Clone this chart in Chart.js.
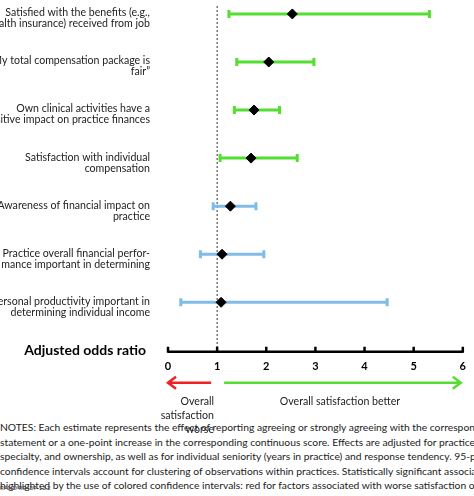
<!DOCTYPE html>
<html>
<head>
<meta charset="utf-8">
<script src="https://cdn.jsdelivr.net/npm/chart.js@4.4.0/dist/chart.umd.min.js"></script>
<style>
  body { margin: 0; background: #fff; font-family: Lato, sans-serif; }
  #wrap { position: absolute; top: 0; left: 0; width: 474px; height: 440px; }
  #notes { position: absolute; top: 420px; left: 0; width: 474px; font-size: 10.3px; line-height: 14.6px; color: #222; white-space: nowrap; }
  #src { position: absolute; top: 484px; left: 0; font-size: 6px; color: #333; }
</style>
</head>
<body>
<div id="notes">NOTES: Each estimate represents the effect of reporting agreeing or strongly agreeing with the corresponding<br>statement or a one-point increase in the corresponding continuous score. Effects are adjusted for practice size,<br>specialty, and ownership, as well as for individual seniority (years in practice) and response tendency. 95-percent<br>confidence intervals account for clustering of observations within practices. Statistically significant associations are<br>highlighted by the use of colored confidence intervals: red for factors associated with worse satisfaction or green<br>for factors associated with better satisfaction.</div>
<div id="src">RAND RR439-13.2</div>
<div id="wrap"><canvas id="chart" width="474" height="440"></canvas></div>
<script>
// factors, top to bottom
var factors = [
  ["Satisfied with the benefits (e.g.,", "health insurance) received from job"],
  ["\u201cMy total compensation package is", "fair\u201d"],
  ["Own clinical activities have a", "positive impact on practice finances"],
  ["Satisfaction with individual", "compensation"],
  ["Awareness of financial impact on", "practice"],
  ["Practice overall financial perfor-", "mance important in determining"],
  ["Personal productivity important in", "determining individual income"]
];
var oddsRatio = [2.53, 2.05, 1.75, 1.69, 1.27, 1.10, 1.08];
var ciLow     = [1.24, 1.40, 1.35, 1.06, 0.92, 0.66, 0.26];
var ciHigh    = [5.32, 2.97, 2.27, 2.63, 1.79, 1.95, 4.46];
var significant = [true, true, true, true, false, false, false];
var xTicks = [0, 1, 2, 3, 4, 5, 6];

var GREEN = "#55dd33", BLUE = "#80bce8", RED = "#ee2222";

var points = oddsRatio.map(function (v, i) { return { x: v, y: i }; });

var forestPlugin = {
  id: "forest",
  beforeDatasetsDraw: function (chart) {
    var ctx = chart.ctx, xs = chart.scales.x, ys = chart.scales.y, a = chart.chartArea;
    ctx.save();
    // reference line at OR = 1
    ctx.strokeStyle = "#333"; ctx.lineWidth = 1; ctx.setLineDash([2, 2]);
    ctx.beginPath(); ctx.moveTo(xs.getPixelForValue(1), a.top); ctx.lineTo(xs.getPixelForValue(1), a.bottom); ctx.stroke();
    ctx.setLineDash([]);
    // confidence intervals
    for (var i = 0; i < factors.length; i++) {
      var y = ys.getPixelForValue(i), x1 = xs.getPixelForValue(ciLow[i]), x2 = xs.getPixelForValue(ciHigh[i]);
      ctx.strokeStyle = significant[i] ? GREEN : BLUE; ctx.lineWidth = 3;
      ctx.beginPath(); ctx.moveTo(x1, y); ctx.lineTo(x2, y);
      ctx.moveTo(x1, y - 4); ctx.lineTo(x1, y + 4);
      ctx.moveTo(x2, y - 4); ctx.lineTo(x2, y + 4);
      ctx.stroke();
    }
    // factor labels
    ctx.fillStyle = "#222"; ctx.font = "10.6px Lato"; ctx.textAlign = "right"; ctx.textBaseline = "middle";
    for (var j = 0; j < factors.length; j++) {
      var yy = ys.getPixelForValue(j);
      ctx.fillText(factors[j][0], 150, yy - 1);
      ctx.fillText(factors[j][1], 150, yy + 10);
    }
    ctx.restore();
  },
  afterDraw: function (chart) {
    var ctx = chart.ctx, xs = chart.scales.x, a = chart.chartArea;
    var b = a.bottom;
    ctx.save();
    // axis line and ticks
    ctx.strokeStyle = "#000"; ctx.lineWidth = 2.5;
    ctx.beginPath(); ctx.moveTo(xs.getPixelForValue(0), b); ctx.lineTo(xs.getPixelForValue(6), b);
    xTicks.forEach(function (t) { var px = xs.getPixelForValue(t); ctx.moveTo(px, b + 1); ctx.lineTo(px, b - 5); });
    ctx.stroke();
    ctx.fillStyle = "#000"; ctx.font = "bold 14px Lato"; ctx.textAlign = "right"; ctx.textBaseline = "middle";
    ctx.fillText("Adjusted odds ratio", 146, b - 1);
    // arrows
    var ay = b + 31, x1 = xs.getPixelForValue(1);
    function arrow(from, to, col) {
      var d = to > from ? 1 : -1;
      ctx.strokeStyle = col; ctx.lineWidth = 2.5;
      ctx.beginPath(); ctx.moveTo(from, ay); ctx.lineTo(to, ay);
      ctx.moveTo(to - d * 8, ay - 6); ctx.lineTo(to, ay); ctx.lineTo(to - d * 8, ay + 6);
      ctx.stroke();
    }
    arrow(x1 - 6, xs.getPixelForValue(0), RED);
    arrow(x1 + 7, xs.getPixelForValue(6) - 2, GREEN);
    ctx.fillStyle = "#222"; ctx.font = "10.6px Lato";
    ctx.textAlign = "right";
    ctx.fillText("Overall", 214, b + 50); ctx.fillText("satisfaction", 214, b + 64); ctx.fillText("worse", 214, b + 78);
    ctx.textAlign = "center";
    ctx.fillText("Overall satisfaction better", 340, b + 50);
    ctx.restore();
  }
};

new Chart(document.getElementById("chart"), {
  type: "scatter",
  data: {
    datasets: [{
      data: points,
      pointStyle: "rectRot",
      pointRadius: 5,
      backgroundColor: "#000",
      borderColor: "#000"
    }]
  },
  options: {
    responsive: false,
    animation: false,
    layout: { padding: { left: 168, right: 7, top: 0, bottom: 59 } },
    plugins: { legend: { display: false }, tooltip: { enabled: false } },
    scales: {
      x: {
        min: 0, max: 6,
        afterBuildTicks: function (s) { s.ticks = xTicks.map(function (v) { return { value: v }; }); },
        grid: { display: false, drawTicks: false },
        border: { display: false },
        ticks: { color: "#000", font: { family: "Lato", size: 11, weight: "bold" }, padding: 8 }
      },
      y: {
        display: false, reverse: true, min: -0.165, max: 7.03
      }
    }
  },
  plugins: [forestPlugin]
});
</script>
</body>
</html>
